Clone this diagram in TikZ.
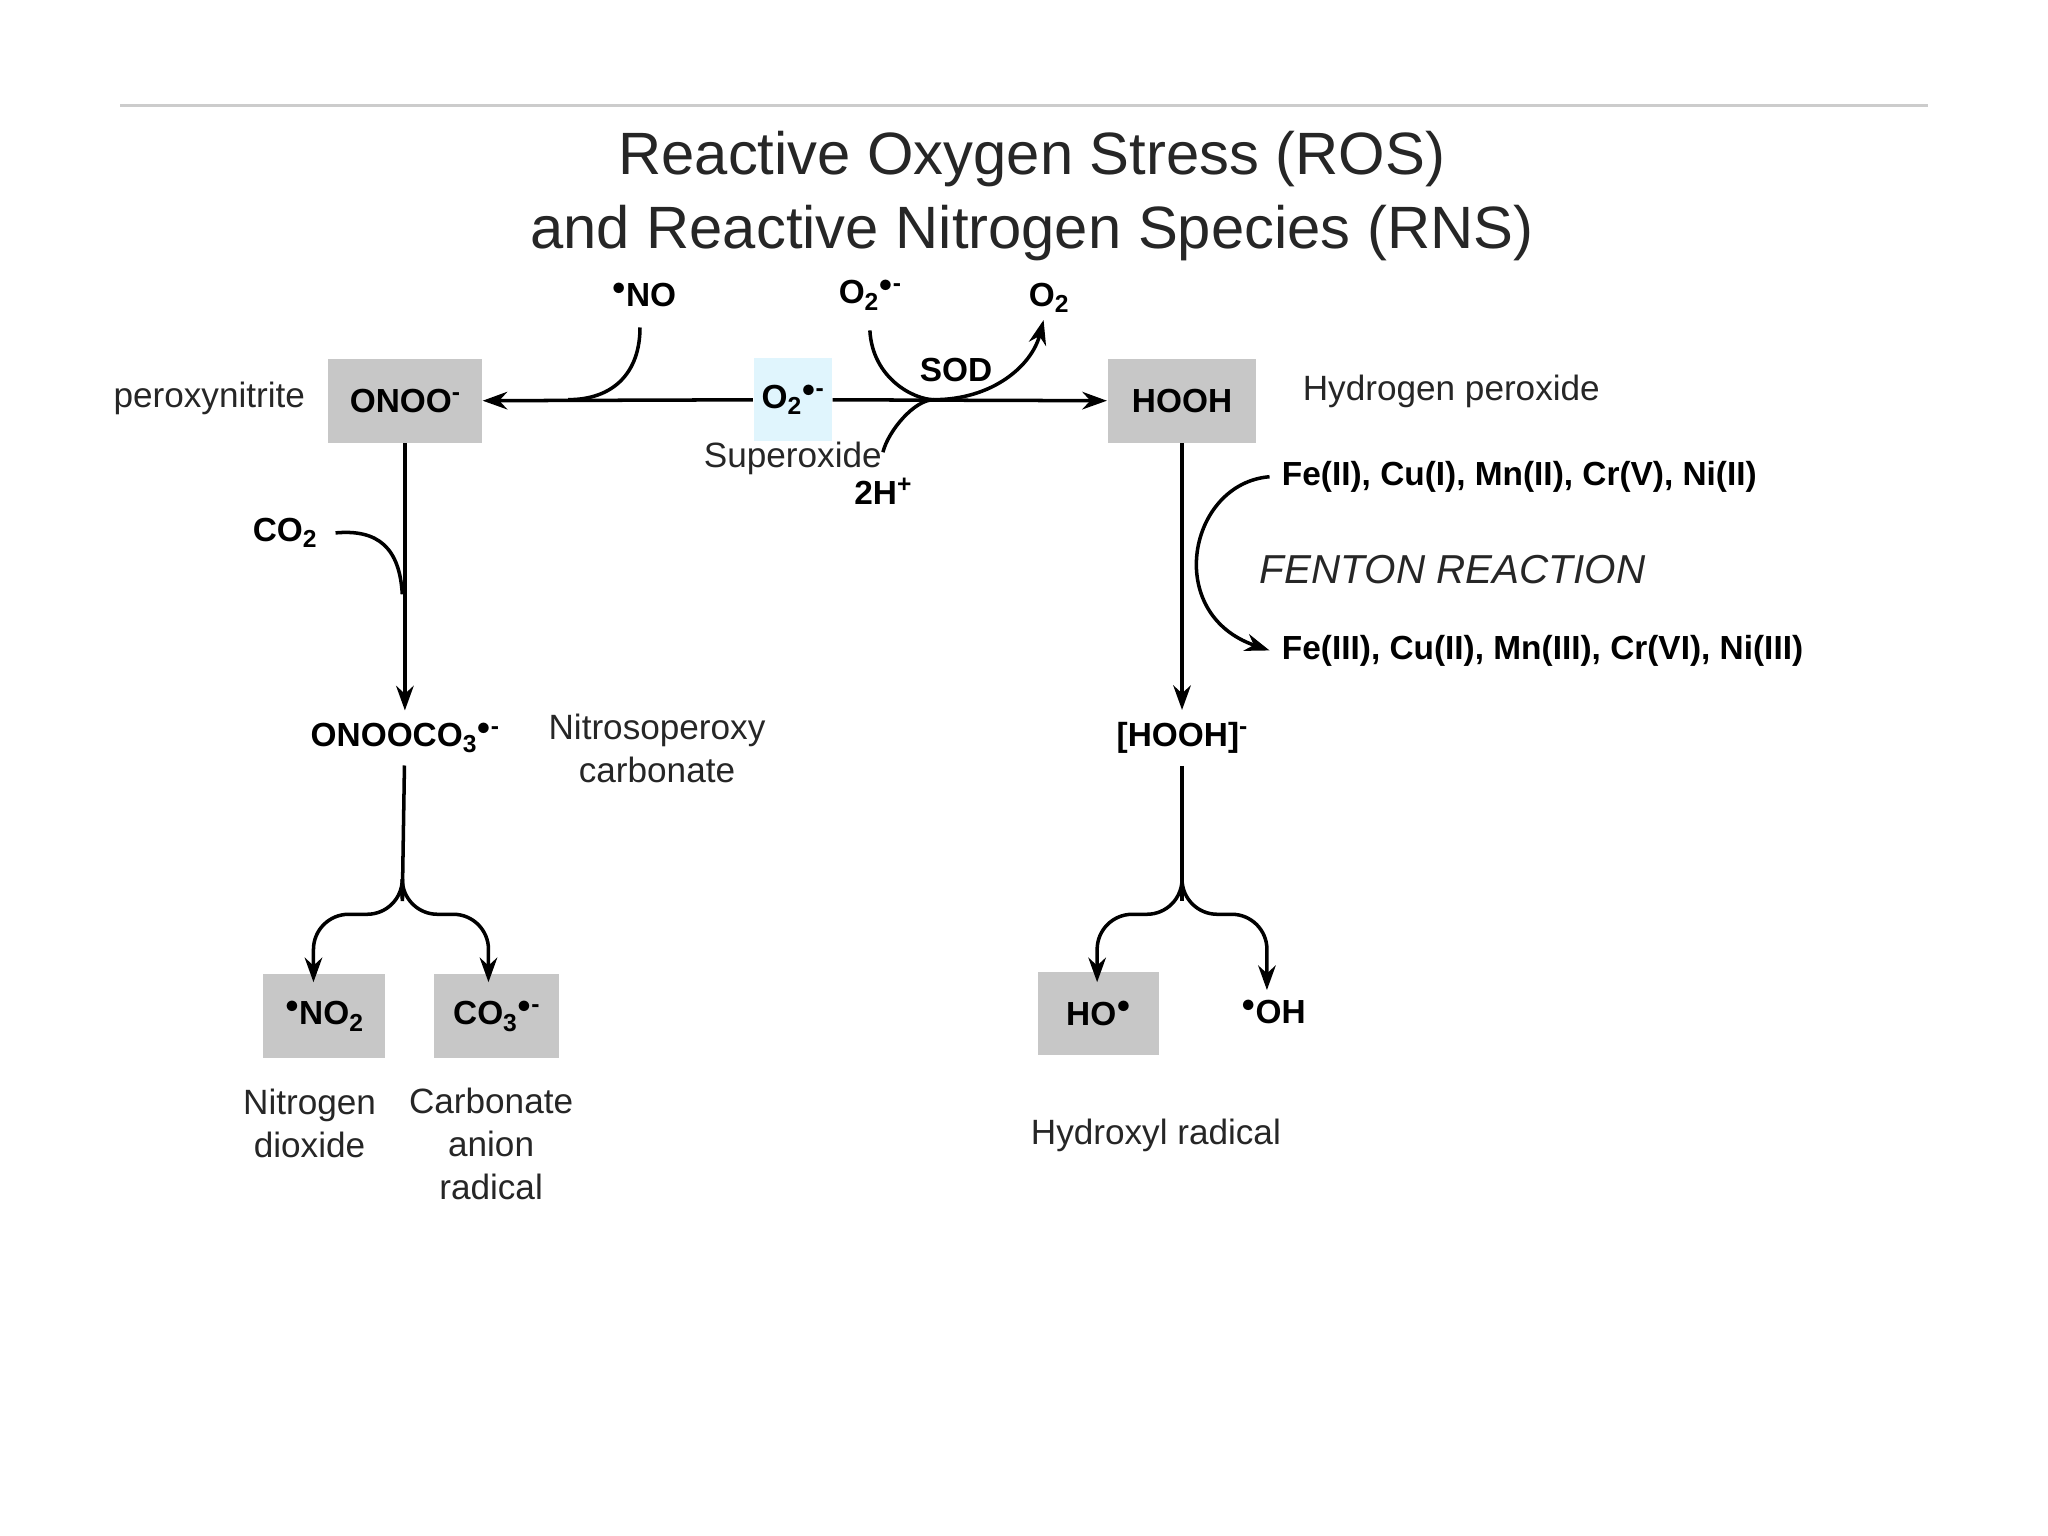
\documentclass[tikz,border=0pt]{standalone}
\usepackage{fontspec}
\setmainfont{Liberation Sans}
\usetikzlibrary{arrows.meta}
\newcommand{\sbs}[1]{\raisebox{-0.35ex}{\scriptsize #1}}
\newcommand{\sps}[1]{\raisebox{0.7ex}{\scriptsize #1}}
\begin{document}
\begin{tikzpicture}[x=0.01306cm,y=-0.01306cm,
 box/.style={fill=black!22,minimum width=#1,minimum height=64*0.01306cm,inner sep=0pt,font=\fontsize{9.5}{12}\selectfont\bfseries},
 lbl/.style={font=\fontsize{10}{12.3}\selectfont,align=center,text=black!85},
 bl/.style={font=\fontsize{9.5}{12}\selectfont\bfseries},
 arr/.style={line width=1pt,-{Stealth[length=7pt,width=5pt]}},
 ln/.style={line width=1pt}]
\useasboundingbox (0,0) rectangle (1568,1176);
\draw[black!20,line width=0.8pt] (92,81) -- (1476,81);
\node[font=\fontsize{17}{21}\selectfont,align=center,text=black!85] (title) at (790,150) {Reactive Oxygen Stress (ROS)\\and Reactive Nitrogen Species (RNS)};
\node[box=118*0.01306cm] (onoo) at (310,307) {ONOO\sps{-}};
\node[box=60*0.01306cm,fill=cyan!12] (o2) at (607,306) {O\sbs{2}\sps{$\bullet$-}};
\node[box=114*0.01306cm] (hooh) at (905,307) {HOOH};
\node[lbl,anchor=east] (pn) at (243,305) {peroxynitrite};
\node[lbl,anchor=west] (hp) at (988,300) {Hydrogen peroxide};
\node[lbl] (sup) at (607,351) {Superoxide};
\node[bl] (no) at (493,226) {\sps{$\bullet$}NO};
\node[bl] (o2a) at (666,226) {O\sbs{2}\sps{$\bullet$-}};
\node[bl] (o2b) at (803,228) {O\sbs{2}};
\node[bl] (sod) at (732,283) {SOD};
\node[bl] (h) at (676,376) {2H\sps{+}};
\draw[arr] (o2) -- (onoo);
\draw[arr] (o2) -- (hooh);
\draw[ln] (no.south) ++(-3,6) .. controls (490,285) and (470,306) .. (435,306);
\coordinate (j) at (715,306);
\draw[arr] (o2a.south) ++(0,6) .. controls (668,290) and (700,306) .. (j) .. controls (760,306) and (790,280) .. (799,245);
\draw[ln] (h.north) ++(0,-10) .. controls (680,330) and (700,306) .. (j);
% left column
\node[bl] (co2) at (218,408) {CO\sbs{2}};
\node[bl] (onooco) at (310,565) {ONOOCO\sbs{3}\sps{$\bullet$-}};
\node[lbl] (nc) at (503,573) {Nitrosoperoxy\\carbonate};
\draw[arr] (onoo) -- (onooco);
\draw[ln] (co2.east) ++(5,0) .. controls (290,405) and (306,420) .. (308,455);
\node[box=94*0.01306cm] (no2) at (248,778) {\sps{$\bullet$}NO\sbs{2}};
\node[box=96*0.01306cm] (co3) at (380,778) {CO\sbs{3}\sps{$\bullet$-}};
\draw[ln] (onooco) -- (308,690);
\draw[arr,rounded corners=10pt] (308,688) -- (308,700) -- (240,700) -- (240,752);
\draw[arr,rounded corners=10pt] (308,688) -- (308,700) -- (374,700) -- (374,752);
\node[lbl] (nd) at (237,860) {Nitrogen\\dioxide};
\node[lbl] (car) at (376,876) {Carbonate\\anion\\radical};
% right column
\node[bl] (hoohm) at (905,565) {[HOOH]\sps{-}};
\draw[arr] (hooh) -- (hoohm);
\node[bl,anchor=west] (fe2) at (972,365) {Fe(II), Cu(I), Mn(II), Cr(V), Ni(II)};
\node[font=\fontsize{11.5}{14}\selectfont\itshape,anchor=west,text=black!85] (fen) at (955,436) {FENTON REACTION};
\node[bl,anchor=west] (fe3) at (972,498) {Fe(III), Cu(II), Mn(III), Cr(VI), Ni(III)};
\draw[arr] (fe2.west) .. controls (910,370) and (890,470) .. (fe3.west);
\node[box=92*0.01306cm] (ho) at (841,776) {HO\sps{$\bullet$}};
\node[bl] (oh) at (975,775) {\sps{$\bullet$}OH};
\draw[ln] (hoohm) -- (905,690);
\draw[arr,rounded corners=10pt] (905,688) -- (905,700) -- (840,700) -- (840,752);
\draw[arr,rounded corners=10pt] (905,688) -- (905,700) -- (970,700) -- (970,758);
\node[lbl] (hr) at (885,869) {Hydroxyl radical};
\end{tikzpicture}
\end{document}
